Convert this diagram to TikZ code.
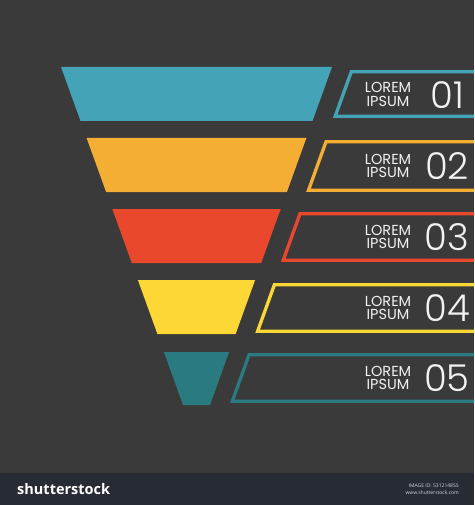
\documentclass[tikz,border=0pt]{standalone}
\usepackage{fontspec}
\setmainfont{Poppins}
\newfontfamily\thinfont{Poppins Light}
\newfontfamily\logofont{Open Sans}
\definecolor{bg}{HTML}{3A3A3A}
\definecolor{barbg}{HTML}{272B34}
\definecolor{cteal}{HTML}{44A3B7}
\definecolor{corange}{HTML}{F5AE34}
\definecolor{cred}{HTML}{EA482D}
\definecolor{cyellow}{HTML}{FDD736}
\definecolor{cdteal}{HTML}{2A7B80}
\definecolor{txt}{HTML}{F2F2F2}
\tikzset{
  seg/.style={draw=none},
  tag/.style={line width=3.3pt, line join=miter},
  lbl/.style={text=txt, align=center, inner sep=0pt, font=\fontsize{14.5}{13.5}\selectfont},
  num/.style={text=txt, inner sep=0pt, font=\thinfont\fontsize{37}{37}\selectfont},
}
\begin{document}
\begin{tikzpicture}[x=1pt,y=-1pt]
\useasboundingbox (0,0) rectangle (474,505);
\clip (0,0) rectangle (474,505);
\fill[bg] (0,0) rectangle (474,505);
% funnel
\fill[cteal]   (61,67) -- (332,67) -- (312.5,121) -- (80.5,121) -- cycle;
\fill[corange] (86.6,138) -- (306.4,138) -- (286.9,192) -- (106.1,192) -- cycle;
\fill[cred]    (112.3,209) -- (280.7,209) -- (261.2,263) -- (131.8,263) -- cycle;
\fill[cyellow] (137.9,280) -- (255.1,280) -- (235.6,334) -- (157.4,334) -- cycle;
\fill[cdteal]  (163.9,352) -- (229.1,352) -- (210,405) -- (183,405) -- cycle;
% tags
\draw[tag,cteal]   (490,71.75) -- (351.3,71.75) -- (335.2,116.25) -- (490,116.25);
\draw[tag,corange] (490,141.75) -- (326.0,141.75) -- (308.5,190.25) -- (490,190.25);
\draw[tag,cred]    (490,213.75) -- (300.0,213.75) -- (283.2,260.25) -- (490,260.25);
\draw[tag,cyellow] (490,284.75) -- (274.4,284.75) -- (257.6,331.25) -- (490,331.25);
\draw[tag,cdteal]  (490,354.75) -- (249.1,354.75) -- (232.3,401.25) -- (490,401.25);
% labels
\node[lbl] (l1) at (388,94.5) {LOREM\\IPSUM};
\node[lbl] (l2) at (388,166) {LOREM\\IPSUM};
\node[lbl] (l3) at (388,237) {LOREM\\IPSUM};
\node[lbl] (l4) at (388,308) {LOREM\\IPSUM};
\node[lbl] (l5) at (388,378) {LOREM\\IPSUM};
\node[num] (n1) at (447,95) {01};
\node[num] (n2) at (447,166) {02};
\node[num] (n3) at (447,237) {03};
\node[num] (n4) at (447,308) {04};
\node[num] (n5) at (447,378) {05};
% bottom bar
\fill[barbg] (0,473) rectangle (474,505);
\node[anchor=west, text=white, inner sep=0pt, font=\logofont\bfseries\fontsize{14.5}{14.5}\selectfont] (logo) at (17,489) {shutterstock};
\node[anchor=east, text=white!80!barbg, inner sep=0pt, align=right, font=\logofont\fontsize{5}{7}\selectfont] (imgid) at (459,489) {IMAGE ID: 531214855\\www.shutterstock.com};
\end{tikzpicture}
\end{document}
